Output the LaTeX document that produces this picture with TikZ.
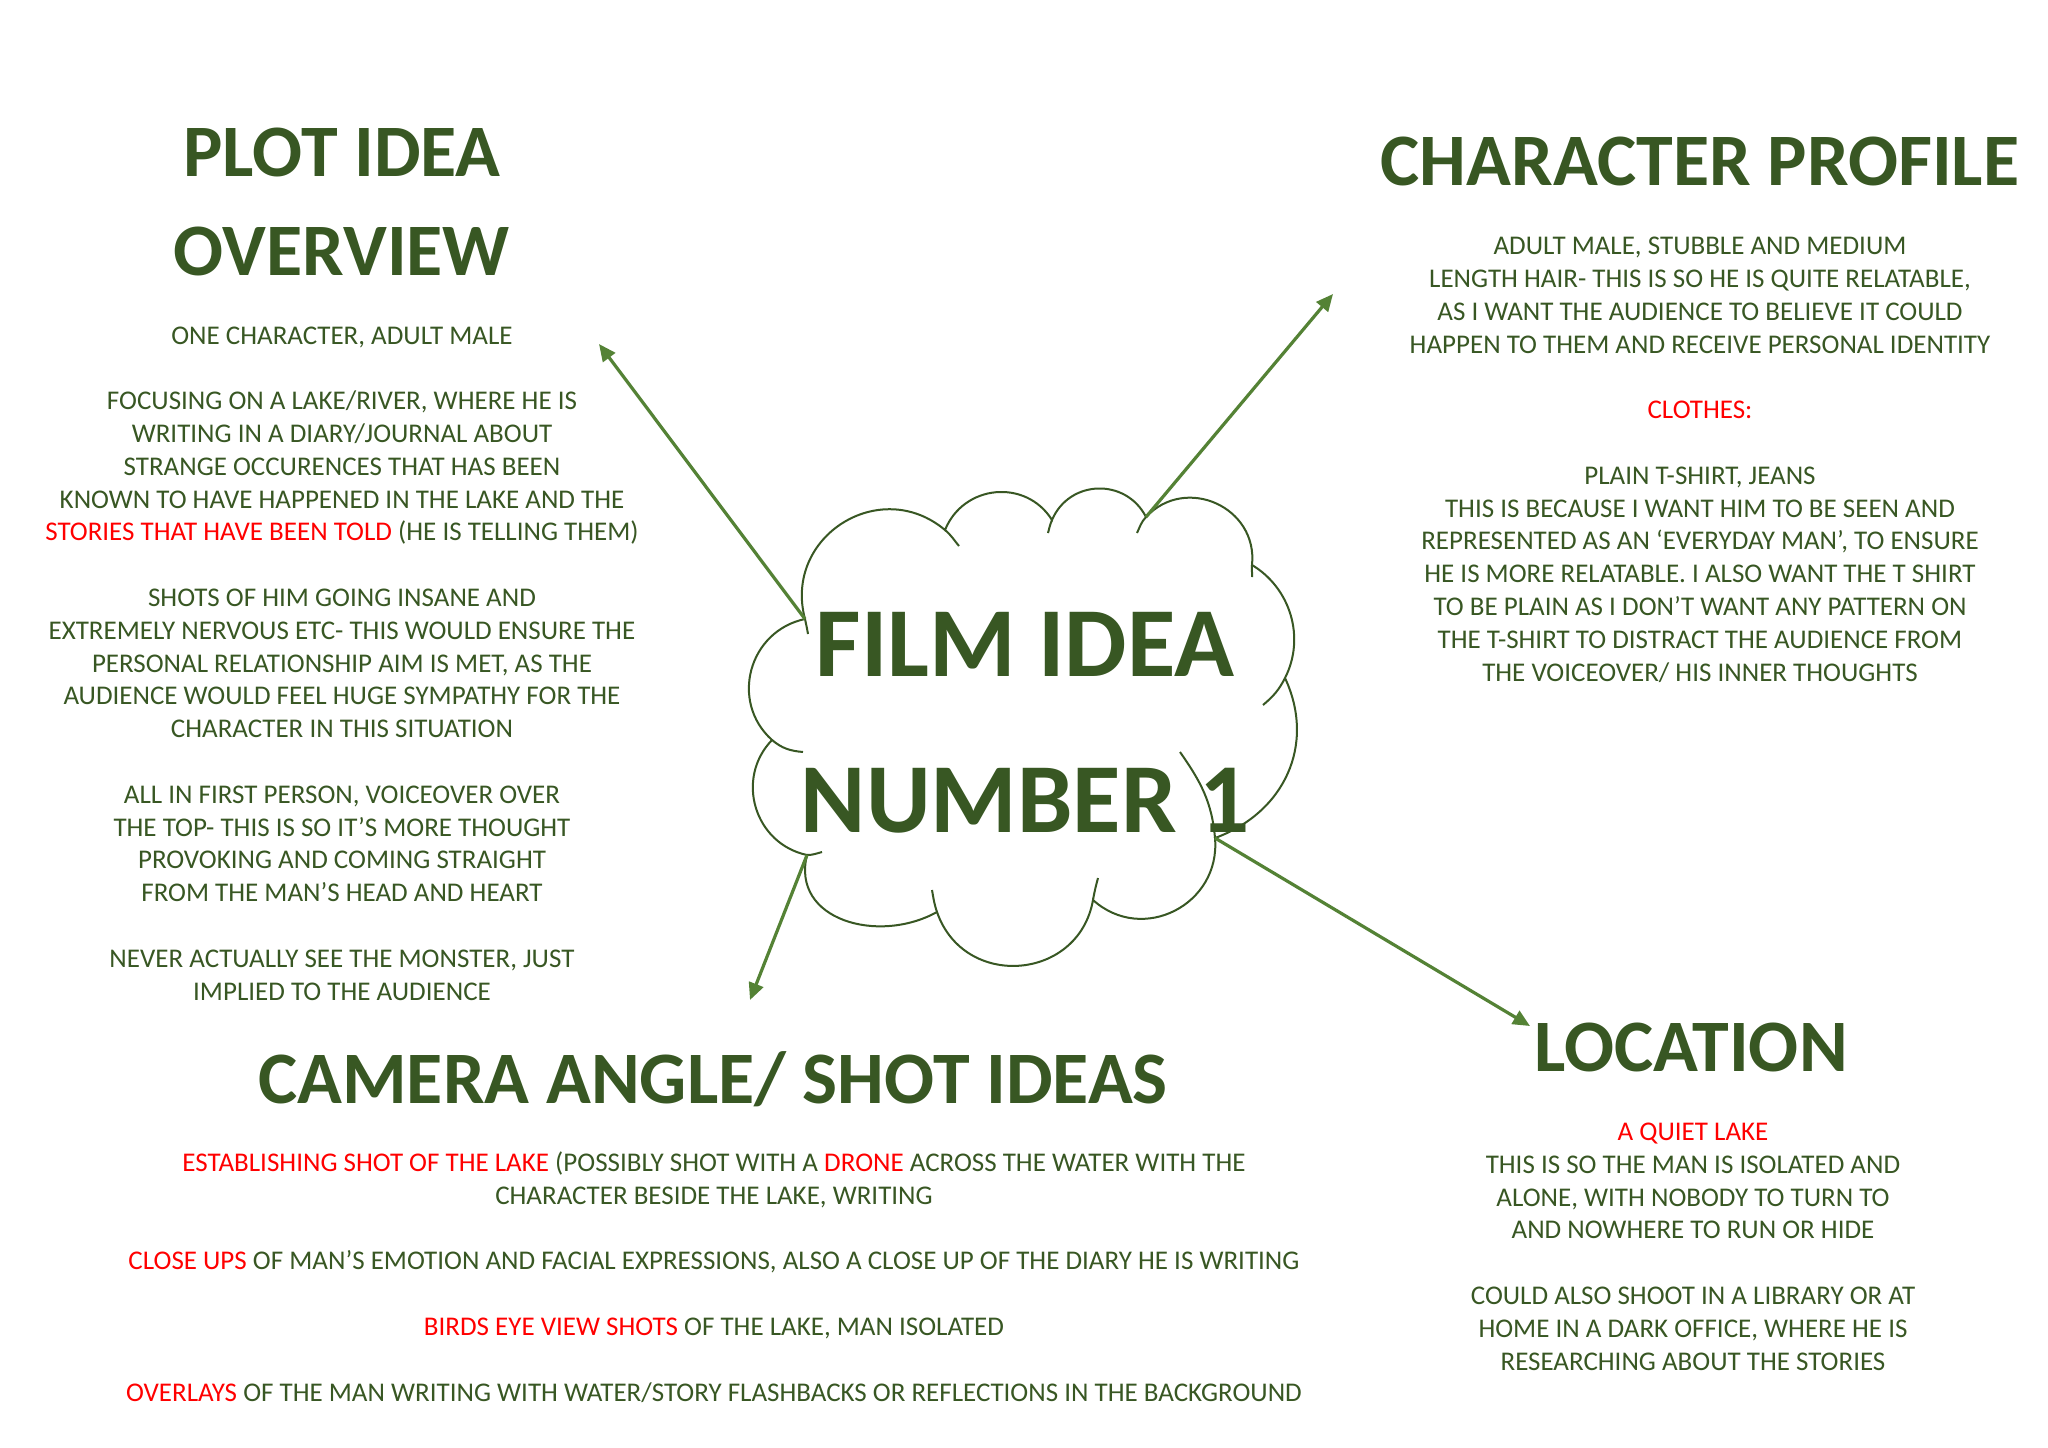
\documentclass[tikz,border=0pt]{standalone}
\usepackage{fontspec}
\setmainfont{Carlito}
\usetikzlibrary{arrows.meta,positioning}
\definecolor{leaf}{HTML}{385723}
\definecolor{stem}{HTML}{548235}
\definecolor{hot}{HTML}{FF0000}
\begin{document}
\begin{tikzpicture}[x=1pt, y=1pt,
    body/.style={align=center, anchor=base, inner sep=0pt, text=leaf, font=\fontsize{27}{32.8}\selectfont},
    heading/.style={align=center, anchor=base, inner sep=0pt, text=leaf, font=\fontsize{74}{99}\selectfont\bfseries},
    puff/.style={draw=leaf, line width=2pt},
    link/.style={draw=stem, line width=3.2pt, -{Triangle[length=17pt,width=15pt]}}]
    \fill[white] (0,0) rectangle (2048,-1448);
    \useasboundingbox (0,0) rectangle (2048,-1448);
    \coordinate (pA) at (805,-619);
    \coordinate (pB) at (945,-530);
    \coordinate (pC) at (1052,-520);
    \coordinate (pD) at (1146,-517);
    \coordinate (pE) at (1252,-565);
    \coordinate (pF) at (1285,-678);
    \coordinate (pG) at (1215,-838);
    \coordinate (pH) at (1093,-900);
    \coordinate (pI) at (937,-912);
    \coordinate (pJ) at (807,-855);
    \coordinate (pK) at (772,-740);
    \draw[puff] (pA) to[out=105,in=140,looseness=1.31] (pB)
        to[out=68,in=122,looseness=1.17] (pC)
        to[out=67,in=117,looseness=1.2] (pD)
        to[out=47,in=84,looseness=1.28] (pE)
        to[out=-31,in=63,looseness=0.98] (pF)
        to[out=-65,in=20,looseness=1.08] (pG)
        to[out=-85,in=-42,looseness=1.25] (pH)
        to[out=-100,in=-71,looseness=1.35] (pI)
        to[out=-151,in=-104,looseness=1.21] (pJ)
        to[out=168,in=-134,looseness=1.14] (pK)
        to[out=138,in=-168,looseness=1.17] (pA);
    \draw[puff] (pA) to[out=-78,in=100] ++(3,-15);
    \draw[puff] (pB) to[out=-40,in=130] ++(14,-16);
    \draw[puff] (pC) to[out=-113,in=75] ++(-4,-13);
    \draw[puff] (pD) to[out=-133,in=65] ++(-9,-16);
    \draw[puff] (pE) to[out=-96,in=86] ++(0,-12);
    \draw[puff] (pF) to[out=-117,in=40] ++(-22,-27);
    \draw[puff] (pG) to[out=95,in=-55] ++(-35,86);
    \draw[puff] (pH) to[out=80,in=-105] ++(5,22);
    \draw[puff] (pI) to[out=109,in=-80] ++(-5,22);
    \draw[puff] (pJ) to[out=0,in=195] ++(15,3);
    \draw[puff] (pK) to[out=-40,in=175] ++(31,-12);
    \node (film) [heading, font=\fontsize{99}{156}\selectfont\bfseries] at (1025,-832) {FILM IDEA\\NUMBER 1};
    \node (plot) [heading] at (342,-275) {PLOT IDEA\\OVERVIEW};
    \node (plotnotes) [body] at (342,-1000) {ONE CHARACTER, ADULT MALE\\[32.8pt]
        FOCUSING ON A LAKE/RIVER, WHERE HE IS\\
        WRITING IN A DIARY/JOURNAL ABOUT\\
        STRANGE OCCURENCES THAT HAS BEEN\\
        KNOWN TO HAVE HAPPENED IN THE LAKE AND THE\\
        \textcolor{hot}{STORIES THAT HAVE BEEN TOLD} (HE IS TELLING THEM)\\[32.8pt]
        SHOTS OF HIM GOING INSANE AND\\
        EXTREMELY NERVOUS ETC- THIS WOULD ENSURE THE\\
        PERSONAL RELATIONSHIP AIM IS MET, AS THE\\
        AUDIENCE WOULD FEEL HUGE SYMPATHY FOR THE\\
        CHARACTER IN THIS SITUATION\\[32.8pt]
        ALL IN FIRST PERSON, VOICEOVER OVER\\
        THE TOP- THIS IS SO IT’S MORE THOUGHT\\
        PROVOKING AND COMING STRAIGHT\\
        FROM THE MAN’S HEAD AND HEART\\[32.8pt]
        NEVER ACTUALLY SEE THE MONSTER, JUST\\
        IMPLIED TO THE AUDIENCE};
    \node (profile) [heading] at (1700,-185) {CHARACTER PROFILE};
    \node (profilenotes) [body] at (1700,-681) {ADULT MALE, STUBBLE AND MEDIUM\\
        LENGTH HAIR- THIS IS SO HE IS QUITE RELATABLE,\\
        AS I WANT THE AUDIENCE TO BELIEVE IT COULD\\
        HAPPEN TO THEM AND RECEIVE PERSONAL IDENTITY\\[32.8pt]
        \textcolor{hot}{CLOTHES:}\\[32.8pt]
        PLAIN T-SHIRT, JEANS\\
        THIS IS BECAUSE I WANT HIM TO BE SEEN AND\\
        REPRESENTED AS AN ‘EVERYDAY MAN’, TO ENSURE\\
        HE IS MORE RELATABLE. I ALSO WANT THE T SHIRT\\
        TO BE PLAIN AS I DON’T WANT ANY PATTERN ON\\
        THE T-SHIRT TO DISTRACT THE AUDIENCE FROM\\
        THE VOICEOVER/ HIS INNER THOUGHTS};
    \node (location) [heading] at (1691,-1071) {LOCATION};
    \node (locationnotes) [body] at (1693,-1370) {\textcolor{hot}{A QUIET LAKE}\\
        THIS IS SO THE MAN IS ISOLATED AND\\
        ALONE, WITH NOBODY TO TURN TO\\
        AND NOWHERE TO RUN OR HIDE\\[32.8pt]
        COULD ALSO SHOOT IN A LIBRARY OR AT\\
        HOME IN A DARK OFFICE, WHERE HE IS\\
        RESEARCHING ABOUT THE STORIES};
    \node (camera) [heading] at (713,-1103) {CAMERA ANGLE/ SHOT IDEAS};
    \node (cameranotes) [body] at (714,-1401) {\textcolor{hot}{ESTABLISHING SHOT OF THE LAKE} (POSSIBLY SHOT WITH A \textcolor{hot}{DRONE} ACROSS THE WATER WITH THE\\
        CHARACTER BESIDE THE LAKE, WRITING\\[32.8pt]
        \textcolor{hot}{CLOSE UPS} OF MAN’S EMOTION AND FACIAL EXPRESSIONS, ALSO A CLOSE UP OF THE DIARY HE IS WRITING\\[32.8pt]
        \textcolor{hot}{BIRDS EYE VIEW SHOTS} OF THE LAKE, MAN ISOLATED\\[32.8pt]
        \textcolor{hot}{OVERLAYS} OF THE MAN WRITING WITH WATER/STORY FLASHBACKS OR REFLECTIONS IN THE BACKGROUND};
    \coordinate (plottip) at (599,-344);
    \coordinate (profiletip) at (1333,-294);
    \coordinate (locationtip) at (1530,-1026);
    \coordinate (cameratip) at (750,-1000);
    \draw[link] (pA) -- (plottip);
    \draw[link] (pD) -- (profiletip);
    \draw[link] (pG) -- (locationtip);
    \draw[link] (pJ) -- (cameratip);
\end{tikzpicture}
\end{document}
